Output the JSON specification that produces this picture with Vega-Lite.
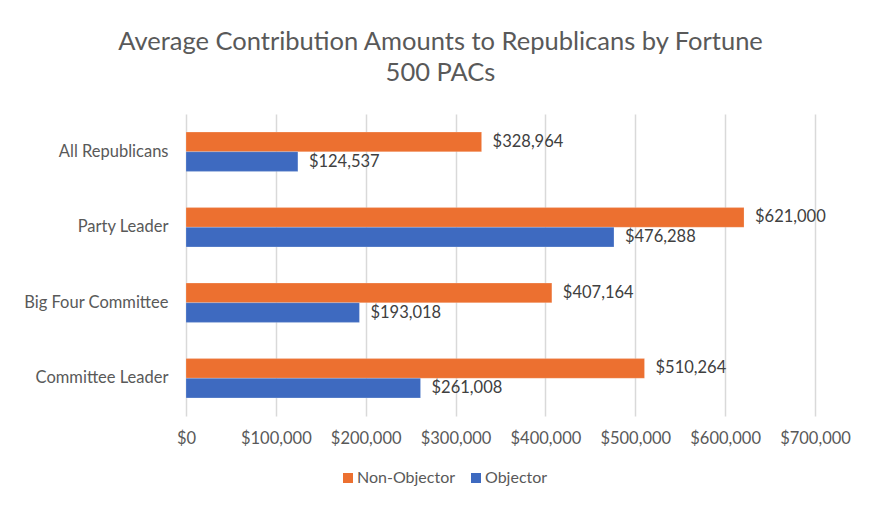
{
  "$schema": "https://vega.github.io/schema/vega-lite/v6.json",
  "autosize": {"type": "none"},
  "width": 629,
  "height": 302,
  "padding": {"left": 186, "top": 114, "right": 65, "bottom": 100},
  "background": "white",
  "config": {
    "font": "Lato",
    "view": {"stroke": null}
  },
  "title": {
    "text": ["Average Contribution Amounts to Republicans by Fortune", "500 PACs"],
    "font": "Lato",
    "fontSize": 25.5,
    "fontWeight": "normal",
    "color": "#595959",
    "lineHeight": 31,
    "anchor": "middle",
    "dx": -60,
    "offset": 28
  },
  "data": {
    "values": [
      {"category": "All Republicans", "series": "Non-Objector", "amount": 328964},
      {"category": "All Republicans", "series": "Objector", "amount": 124537},
      {"category": "Party Leader", "series": "Non-Objector", "amount": 621000},
      {"category": "Party Leader", "series": "Objector", "amount": 476288},
      {"category": "Big Four Committee", "series": "Non-Objector", "amount": 407164},
      {"category": "Big Four Committee", "series": "Objector", "amount": 193018},
      {"category": "Committee Leader", "series": "Non-Objector", "amount": 510264},
      {"category": "Committee Leader", "series": "Objector", "amount": 261008}
    ]
  },
  "encoding": {
    "y": {
      "field": "category",
      "type": "nominal",
      "sort": ["All Republicans", "Party Leader", "Big Four Committee", "Committee Leader"],
      "scale": {"paddingInner": 0.48, "paddingOuter": 0.24},
      "axis": {
        "title": null,
        "domain": false,
        "ticks": false,
        "labelPadding": 18,
        "labelFontSize": 16.5,
        "labelColor": "#595959",
        "labelFont": "Lato"
      }
    },
    "yOffset": {
      "field": "series",
      "type": "nominal",
      "sort": ["Non-Objector", "Objector"]
    },
    "x": {
      "field": "amount",
      "type": "quantitative",
      "scale": {"domain": [0, 700000], "nice": false},
      "axis": {
        "title": null,
        "format": "$,d",
        "values": [0, 100000, 200000, 300000, 400000, 500000, 600000, 700000],
        "domain": false,
        "ticks": false,
        "grid": true,
        "gridColor": "#D9D9D9",
        "gridWidth": 1.5,
        "labelPadding": 14,
        "labelFontSize": 16.5,
        "labelColor": "#595959",
        "labelFont": "Lato",
        "labelOverlap": false,
        "labelBound": false,
        "labelFlush": false
      }
    }
  },
  "layer": [
    {
      "mark": {"type": "bar", "stroke": "white", "strokeWidth": 0.5, "strokeOpacity": 0.4},
      "encoding": {
        "color": {
          "field": "series",
          "type": "nominal",
          "sort": ["Non-Objector", "Objector"],
          "scale": {"domain": ["Non-Objector", "Objector"], "range": ["#EC7030", "#3E6AC0"]},
          "legend": {
            "title": null,
            "orient": "none",
            "direction": "horizontal",
            "legendX": 154,
            "legendY": 356,
            "symbolType": "square",
            "symbolSize": 100,
            "symbolStrokeWidth": 0,
            "labelFontSize": 16,
            "labelColor": "#595959",
            "labelFont": "Lato",
            "labelOffset": 1,
            "columnPadding": 12
          }
        }
      }
    },
    {
      "mark": {"type": "text", "align": "left", "baseline": "middle", "dx": 11, "fontSize": 16.5, "color": "#404040", "font": "Lato"},
      "encoding": {
        "text": {"field": "amount", "type": "quantitative", "format": "$,d"}
      }
    }
  ]
}
